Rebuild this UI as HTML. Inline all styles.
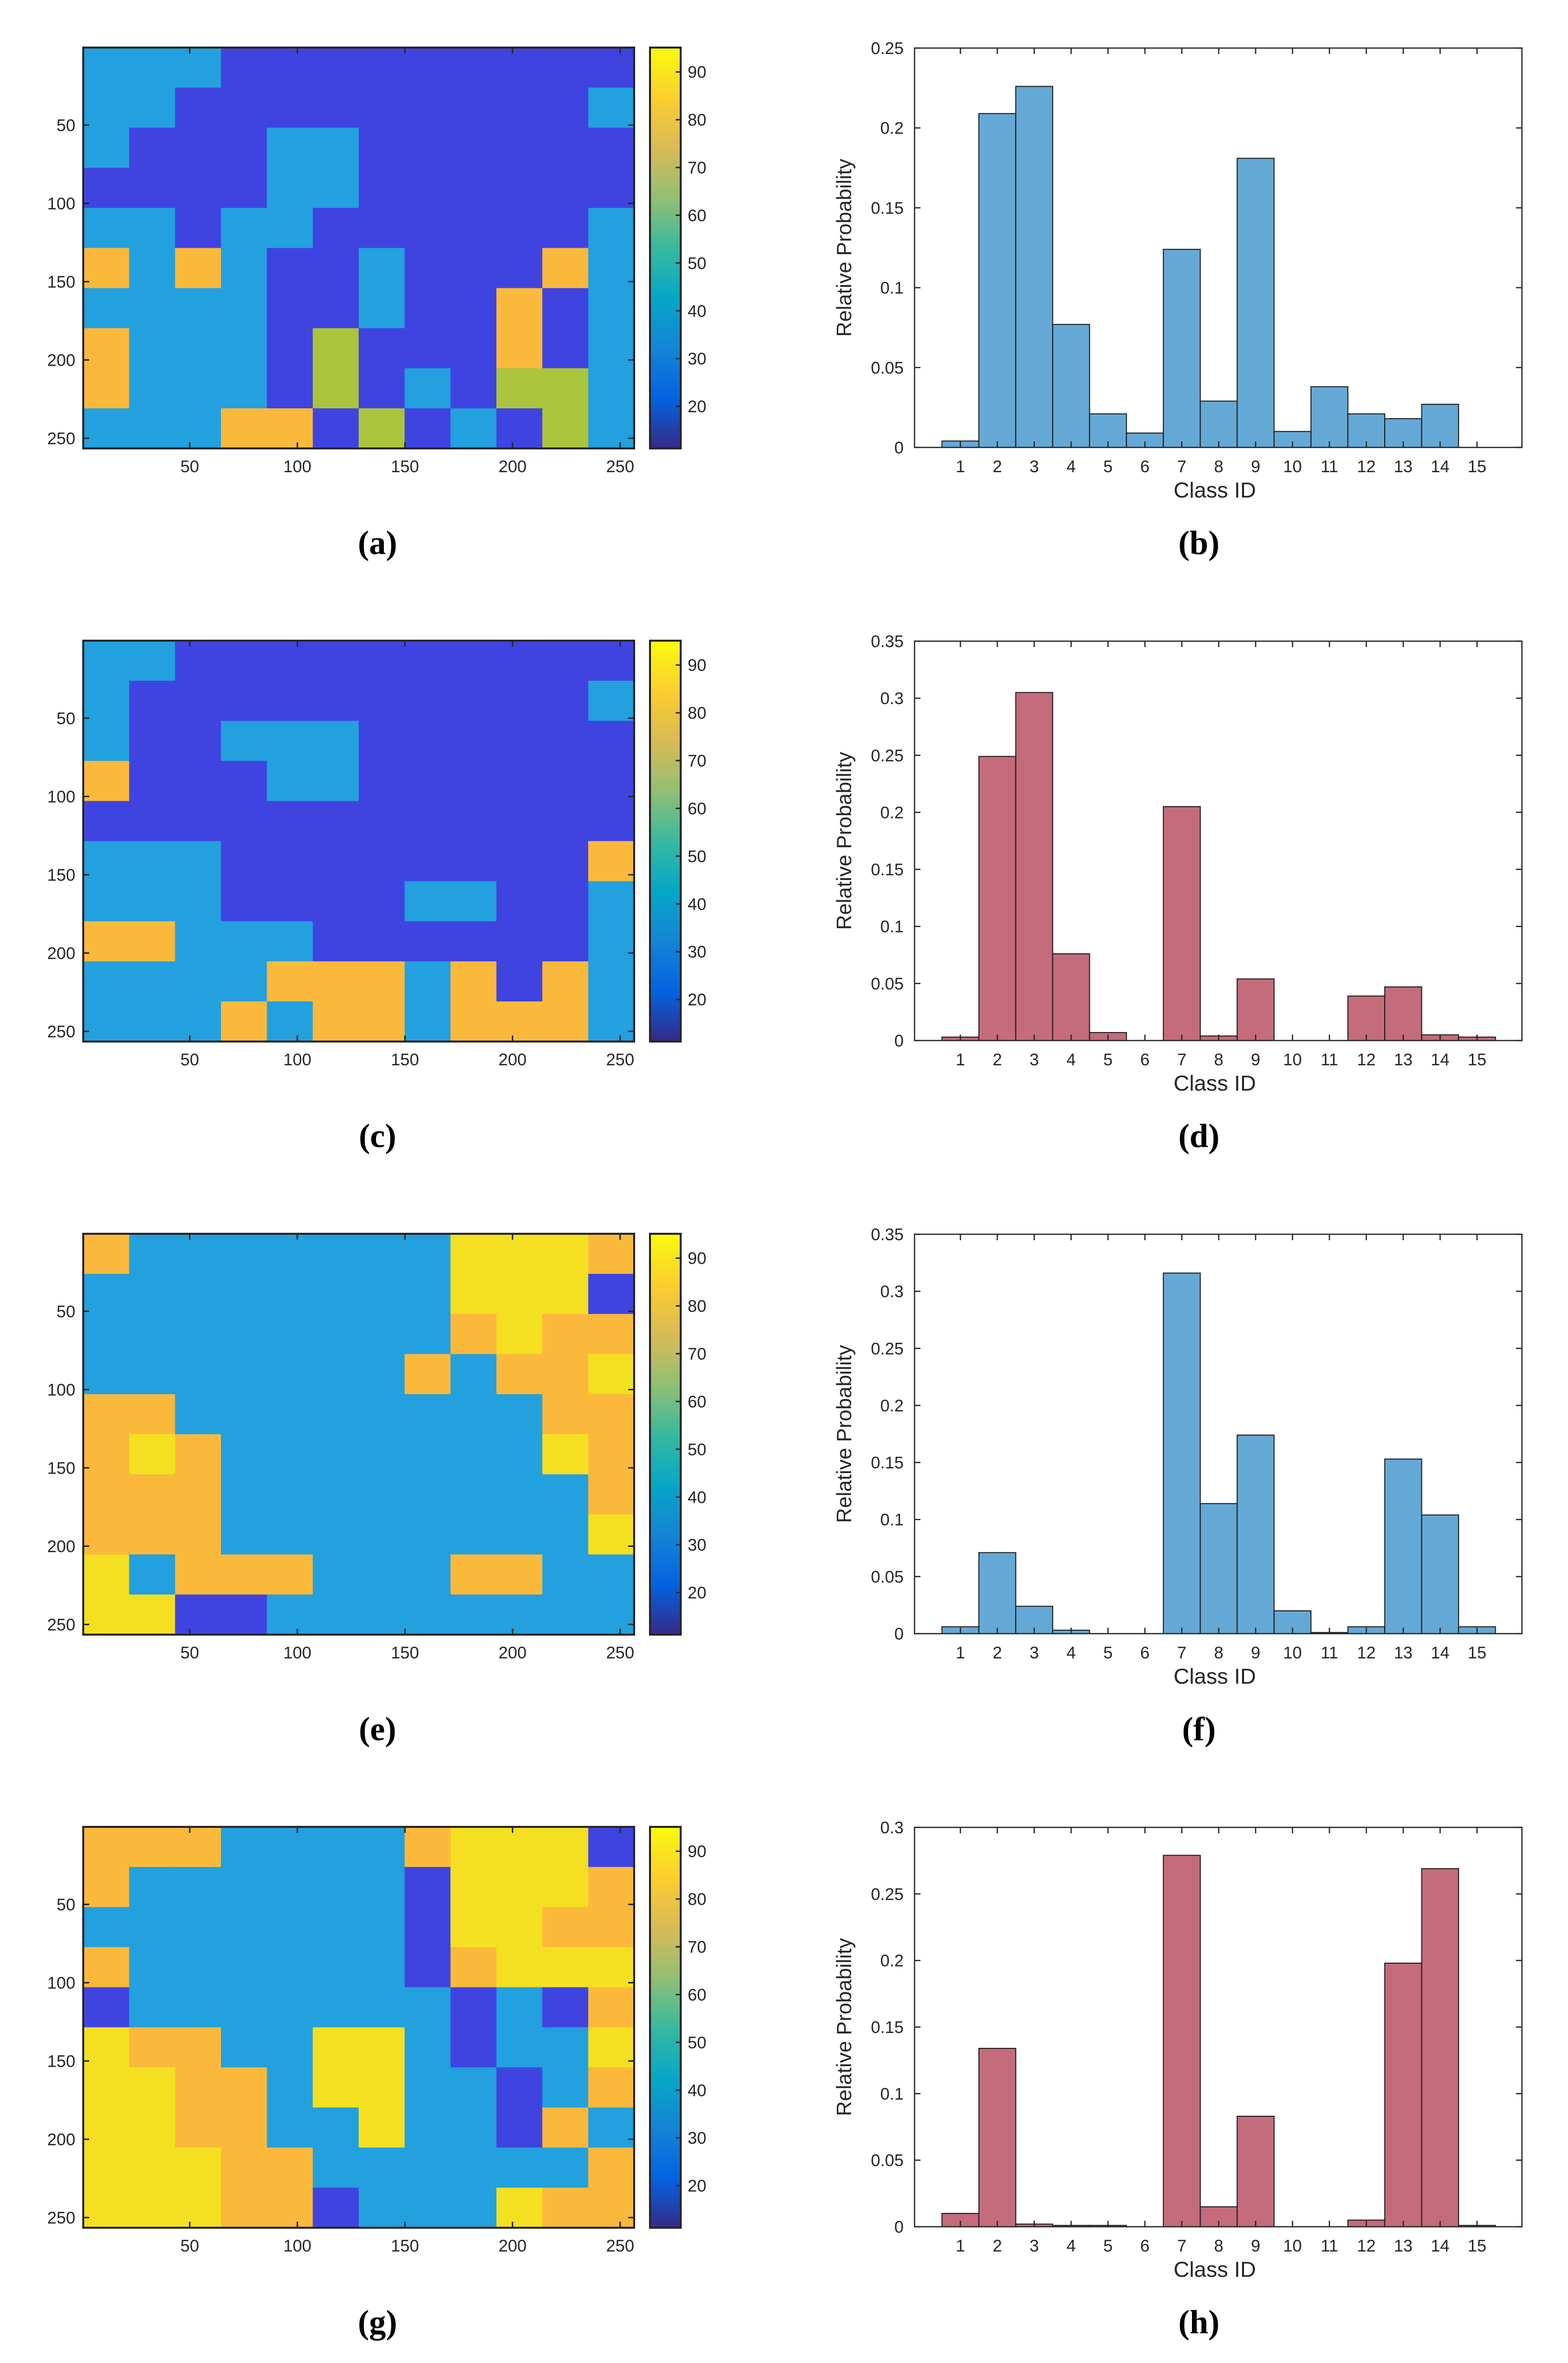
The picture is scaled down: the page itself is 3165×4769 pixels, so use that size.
<!DOCTYPE html>
<html><head><meta charset="utf-8"><title>Class maps and histograms</title>
<style>
html,body{margin:0;padding:0;background:#fff;}
svg{display:block;}
text{font-family:"Liberation Sans",sans-serif;fill:#262626;}
.cap{font-family:"Liberation Serif",serif;font-weight:bold;fill:#000;}
</style></head>
<body>
<svg id="fig" xmlns="http://www.w3.org/2000/svg" width="3165" height="4769" viewBox="0 0 3165 4769">
<defs>
<linearGradient id="parula" x1="0" y1="1" x2="0" y2="0">
<stop offset="0" stop-color="#352A87"/><stop offset="0.125" stop-color="#0363E1"/>
<stop offset="0.25" stop-color="#1485D4"/><stop offset="0.375" stop-color="#06A7C6"/>
<stop offset="0.5" stop-color="#38B99E"/><stop offset="0.625" stop-color="#92BF73"/>
<stop offset="0.75" stop-color="#D9BA56"/><stop offset="0.875" stop-color="#FCCE2E"/>
<stop offset="1" stop-color="#F9FB0E"/>
</linearGradient>
</defs>
</svg>
<script>
// ---- chart data ----
const classIds = [1,2,3,4,5,6,7,8,9,10,11,12,13,14,15];
const probB = [0.004,0.209,0.226,0.077,0.021,0.009,0.124,0.029,0.181,0.010,0.038,0.021,0.018,0.027,0];
const probD = [0.003,0.249,0.305,0.076,0.007,0,0.205,0.004,0.054,0,0,0.039,0.047,0.005,0.003];
const probF = [0.006,0.071,0.024,0.003,0,0,0.316,0.114,0.174,0.020,0.001,0.006,0.153,0.104,0.006];
const probH = [0.010,0.134,0.002,0.001,0.001,0,0.279,0.015,0.083,0,0,0.005,0.198,0.269,0.001];
const yTicksB = [0,0.05,0.1,0.15,0.2,0.25];
const yTicksD = [0,0.05,0.1,0.15,0.2,0.25,0.3,0.35];
const yTicksF = [0,0.05,0.1,0.15,0.2,0.25,0.3,0.35];
const yTicksH = [0,0.05,0.1,0.15,0.2,0.25,0.3];
const mapTicks = [50,100,150,200,250];
const cbarTicks = [20,30,40,50,60,70,80,90];
// coarse class maps (D dark blue, L light blue, O orange, Y yellow, G green)
const mapA = ["LLLDDDDDDDDD","LLDDDDDDDDDL","LDDDLLDDDDDD","DDDDLLDDDDDD","LLDLLDDDDDDL","OLOLDDLDDDOL","LLLLDDLDDODL","OLLLDGDDDODL","OLLLDGDLDGGL","LLLOODGDLDGL"];
const mapC = ["LLDDDDDDDDDD","LDDDDDDDDDDL","LDDLLLDDDDDD","ODDDLLDDDDDD","DDDDDDDDDDDD","LLLDDDDDDDDO","LLLDDDDLLDDL","OOLLLDDDDDDL","LLLLOOOLODOL","LLLOLOOLOOOL"];
const mapE = ["OLLLLLLLYYYO","LLLLLLLLYYYD","LLLLLLLLOYOO","LLLLLLLOLOOY","OOLLLLLLLLOO","OYOLLLLLLLYO","OOOLLLLLLLLO","OOOLLLLLLLLY","YLOOOLLLOOLL","YYDDLLLLLLLL"];
const mapG = ["OOOLLLLOYYYD","OLLLLLLDYYYO","LLLLLLLDYYOO","OLLLLLLDOYYY","DLLLLLLLDLDO","YOOLLYYLDLLY","YYOOLYYLLDLO","YYOOLLYLLDOL","YYYOOLLLLLLO","YYYOODLLLYOO"];
const captionsL = ["(a)","(c)","(e)","(g)"];
const captionsR = ["(b)","(d)","(f)","(h)"];

const NS="http://www.w3.org/2000/svg";
const svg=document.getElementById('fig');
function el(tag,attrs,parent){const e=document.createElementNS(NS,tag);for(const k in attrs)e.setAttribute(k,attrs[k]);(parent||svg).appendChild(e);return e;}
const cmap={D:"#3f44e0",L:"#23a0de",O:"#fbb93c",Y:"#f4e021",G:"#abc43b"};
const rowDy=1197;

function heatmap(grid,dy,idx,cap){
  const g=el('g',{});
  
  
  const L=168,R=1280,T=96+dy,B=905+dy;
  const xs=v=>L+(v-0.5)/256*(R-L), ys=v=>T+(v-0.5)/256*(B-T);
  const rows=grid.length, cols=grid[0].length;
  for(let r=0;r<rows;r++)for(let c=0;c<cols;c++){
    const x0=L+c*(R-L)/cols,y0=T+r*(B-T)/rows;
    const cell=el('rect',{x:x0,y:y0,width:(R-L)/cols+0.5,height:(B-T)/rows+0.5,fill:cmap[grid[r][c]]},g);
    
    
  }
  el('rect',{x:L,y:T,width:R-L,height:B-T,fill:'none',stroke:'#262626','stroke-width':4},g);
  mapTicks.forEach(t=>{
    const x=xs(t),y=ys(t);
    el('line',{x1:x,y1:B,x2:x,y2:B-12,stroke:'#262626','stroke-width':3},g);
    el('line',{x1:x,y1:T,x2:x,y2:T+12,stroke:'#262626','stroke-width':3},g);
    el('line',{x1:L,y1:y,x2:L+12,y2:y,stroke:'#262626','stroke-width':3},g);
    el('line',{x1:R,y1:y,x2:R-12,y2:y,stroke:'#262626','stroke-width':3},g);
    const tx=el('text',{x:x,y:B+48,'font-size':34,'text-anchor':'middle'},g);tx.textContent=t;
    
    
    const ty=el('text',{x:152,y:y+12,'font-size':34,'text-anchor':'end'},g);ty.textContent=t;
    
    
  });
  const cb=el('g',{},g);
  
  
  const CL=1312,CR=1374,vmin=11.2,vmax=95.1;
  el('rect',{x:CL,y:T,width:CR-CL,height:B-T,fill:'url(#parula)',stroke:'#262626','stroke-width':4},cb);
  cbarTicks.forEach(t=>{
    const y=B-(t-vmin)/(vmax-vmin)*(B-T);
    el('line',{x1:CR,y1:y,x2:CR-10,y2:y,stroke:'#262626','stroke-width':3},cb);
    const tt=el('text',{x:1388,y:y+12,'font-size':34},cb);tt.textContent=t;
    
    
  });
  const c=el('text',{x:762,y:1118+dy,'font-size':68,'text-anchor':'middle',class:'cap'});c.textContent=cap;
  
  
}

function barChart(vals,ticks,dy,idx,color,cap){
  const g=el('g',{});
  
  
  const L=1846,R=3072,T=97+dy,B=903+dy;
  const ymax=ticks[ticks.length-1];
  const xs=v=>L+(v+0.243)/16.46*(R-L), ys=v=>B-v/ymax*(B-T);
  classIds.forEach((c,i)=>{
    const v=vals[i]; if(v<=0) return;
    const b=el('rect',{x:xs(c-0.5),y:ys(v),width:xs(c+0.5)-xs(c-0.5),height:B-ys(v),fill:color,stroke:'#1a1a1a','stroke-width':2},g);
    
    
  });
  el('rect',{x:L,y:T,width:R-L,height:B-T,fill:'none',stroke:'#262626','stroke-width':2.5},g);
  classIds.forEach(c=>{
    const x=xs(c);
    el('line',{x1:x,y1:B,x2:x,y2:B-12,stroke:'#262626','stroke-width':2.5},g);
    el('line',{x1:x,y1:T,x2:x,y2:T+12,stroke:'#262626','stroke-width':2.5},g);
    const t=el('text',{x:x,y:B+50,'font-size':34,'text-anchor':'middle'},g);t.textContent=c;
    
    
  });
  ticks.forEach(v=>{
    const y=ys(v);
    el('line',{x1:L,y1:y,x2:L+12,y2:y,stroke:'#262626','stroke-width':2.5},g);
    el('line',{x1:R,y1:y,x2:R-12,y2:y,stroke:'#262626','stroke-width':2.5},g);
    const t=el('text',{x:1824,y:y+12,'font-size':34,'text-anchor':'end'},g);t.textContent=v;
    
    
  });
  const xl=el('text',{x:2452,y:1004+dy,'font-size':44,'text-anchor':'middle'},g);xl.textContent='Class ID';
  
  
  const yl=el('text',{x:0,y:0,'font-size':42,'text-anchor':'middle',transform:'translate(1718,'+(500+dy)+') rotate(-90)'},g);yl.textContent='Relative Probability';
  
  
  const c=el('text',{x:2420,y:1118+dy,'font-size':68,'text-anchor':'middle',class:'cap'});c.textContent=cap;
  
  
}

heatmap(mapA,0,'a',captionsL[0]);
heatmap(mapC,rowDy,'c',captionsL[1]);
heatmap(mapE,2*rowDy,'e',captionsL[2]);
heatmap(mapG,3*rowDy,'g',captionsL[3]);
barChart(probB,yTicksB,0,'b','#64a9d6',captionsR[0]);
barChart(probD,yTicksD,rowDy,'d','#c46c7b',captionsR[1]);
barChart(probF,yTicksF,2*rowDy,'f','#64a9d6',captionsR[2]);
barChart(probH,yTicksH,3*rowDy,'h','#c46c7b',captionsR[3]);
</script>
</body></html>
